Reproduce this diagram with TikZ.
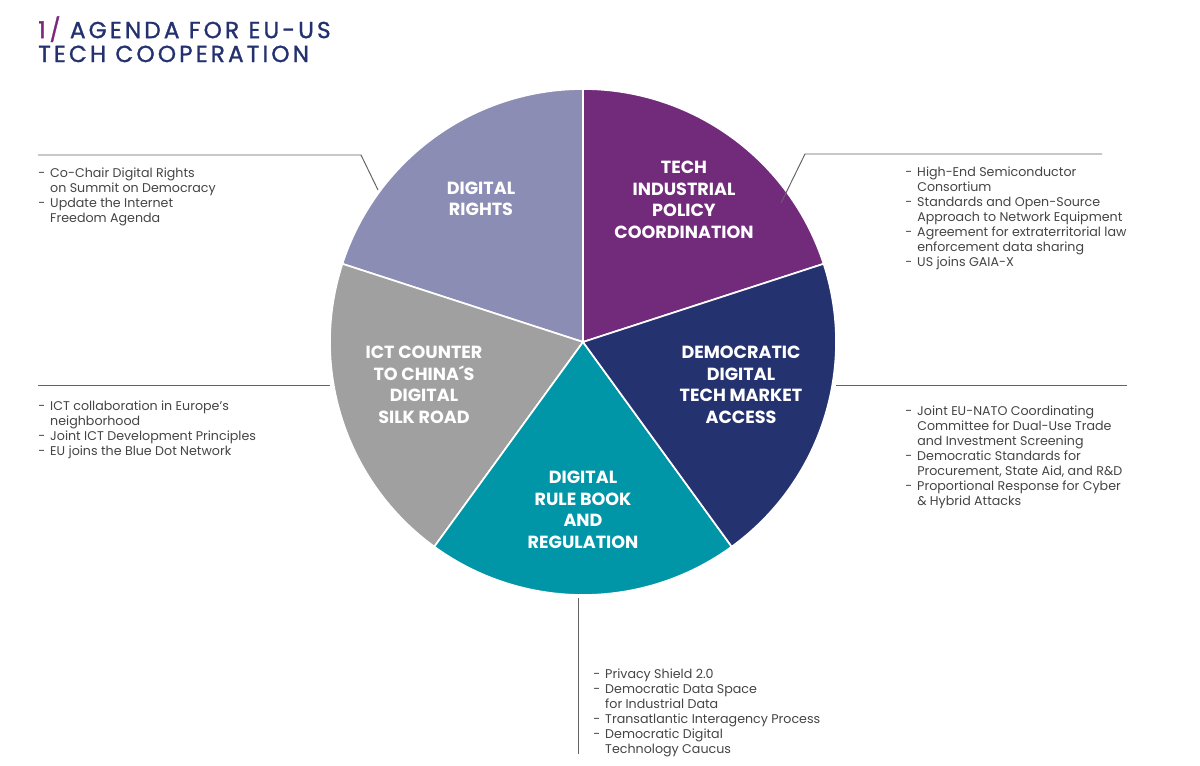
\documentclass[tikz,border=0pt]{standalone}
\usepackage{fontspec}
\setmainfont{Poppins}
\newfontfamily\titlefont[FakeBold=1.2, LetterSpace=13.5]{Poppins}
\usepackage{xcolor}
\usetikzlibrary{positioning}

\definecolor{slicepurple}{RGB}{114,42,122}
\definecolor{slicelav}{RGB}{140,141,181}
\definecolor{slicegray}{RGB}{160,160,160}
\definecolor{sliceteal}{RGB}{0,150,168}
\definecolor{slicenavy}{RGB}{37,50,112}
\definecolor{titlenavy}{RGB}{36,49,111}
\definecolor{titlepurple}{RGB}{122,40,122}
\definecolor{listgray}{RGB}{68,68,68}
\definecolor{leadgray}{RGB}{100,100,100}

\newcommand{\lidash}{\makebox[8.5pt][l]{-}}
\newcommand{\liind}{\hspace*{8.5pt}}

\tikzset{
  slicelabel/.style={align=center, text=white, inner sep=0pt,
    font=\fontsize{12.5}{15.3}\selectfont\bfseries},
  itemlist/.style={align=left, text=listgray, inner sep=0pt, anchor=north west,
    font=\fontsize{9}{10.67}\selectfont},
  leader/.style={draw=leadgray, line width=0.7pt},
}

\begin{document}
\begin{tikzpicture}[x=0.025cm, y=-0.025cm]
\useasboundingbox (0,0) rectangle (1200,766);

\node[anchor=north west, inner sep=0pt, align=left, text=titlenavy,
  font=\titlefont\fontsize{16.5}{17}\selectfont] (title) at (38,16)
  {\textcolor{titlepurple}{1\,/} AGENDA FOR EU-US\\TECH COOPERATION};

\coordinate (center) at (583,342);
\begin{scope}[shift={(center)}, yscale=-1]
\foreach \a/\b/\c in {18/90/slicepurple, 90/162/slicelav, 162/234/slicegray,
                      234/306/sliceteal, 306/378/slicenavy}
  \filldraw[fill=\c, draw=white, line width=1.2pt, line join=round]
    (0,0) -- (\a:253) arc[start angle=\a, end angle=\b, radius=253] -- cycle;
\end{scope}

\node[slicelabel] (rights) at (481,199) {DIGITAL\\RIGHTS};
\node[slicelabel] (industrial) at (684,200) {TECH\\INDUSTRIAL\\POLICY\\COORDINATION};
\node[slicelabel] (silkroad) at (424,385) {ICT COUNTER\\TO CHINA´S\\DIGITAL\\SILK ROAD};
\node[slicelabel] (market) at (741,385) {DEMOCRATIC\\DIGITAL\\TECH MARKET\\ACCESS};
\node[slicelabel] (rulebook) at (583,510) {DIGITAL\\RULE BOOK\\AND\\REGULATION};

\node[itemlist] (rightslist) at (38,168)
  {\lidash Co-Chair Digital Rights\\\liind on Summit on Democracy\\
   \lidash Update the Internet\\\liind Freedom Agenda};
\node[itemlist] (industriallist) at (905,167)
  {\lidash High-End Semiconductor\\\liind Consortium\\
   \lidash Standards and Open-Source\\\liind Approach to Network Equipment\\
   \lidash Agreement for extraterritorial law\\\liind enforcement data sharing\\
   \lidash US joins GAIA-X};
\node[itemlist] (silklist) at (38,401)
  {\lidash ICT collaboration in Europe’s\\\liind neighborhood\\
   \lidash Joint ICT Development Principles\\
   \lidash EU joins the Blue Dot Network};
\node[itemlist] (marketlist) at (905,406)
  {\lidash Joint EU-NATO Coordinating\\\liind Committee for Dual-Use Trade\\
   \liind and Investment Screening\\
   \lidash Democratic Standards for\\\liind Procurement, State Aid, and R\&D\\
   \lidash Proportional Response for Cyber\\\liind \& Hybrid Attacks};
\node[itemlist] (rulelist) at (593,669)
  {\lidash Privacy Shield 2.0\\
   \lidash Democratic Data Space\\\liind for Industrial Data\\
   \lidash Transatlantic Interagency Process\\
   \lidash Democratic Digital\\\liind Technology Caucus};

\coordinate (rightsfrom) at (38,155);
\coordinate (rightsknee) at (361,155);
\coordinate (rightsto) at (378,190);
\coordinate (industrialfrom) at (1102,154);
\coordinate (industrialknee) at (805,154);
\coordinate (industrialto) at (781,203);
\coordinate (silkfrom) at (38,385);
\coordinate (silkto) at (330,385);
\coordinate (marketfrom) at (1127,385);
\coordinate (marketto) at (836,385);
\coordinate (rulefrom) at (578,754);
\coordinate (ruleto) at (578,598);

\draw[leader] (rightsfrom) -- (rightsknee) -- (rightsto);
\draw[leader] (industrialfrom) -- (industrialknee) -- (industrialto);
\draw[leader] (silkfrom) -- (silkto);
\draw[leader] (marketfrom) -- (marketto);
\draw[leader] (rulefrom) -- (ruleto);
\end{tikzpicture}
\end{document}
